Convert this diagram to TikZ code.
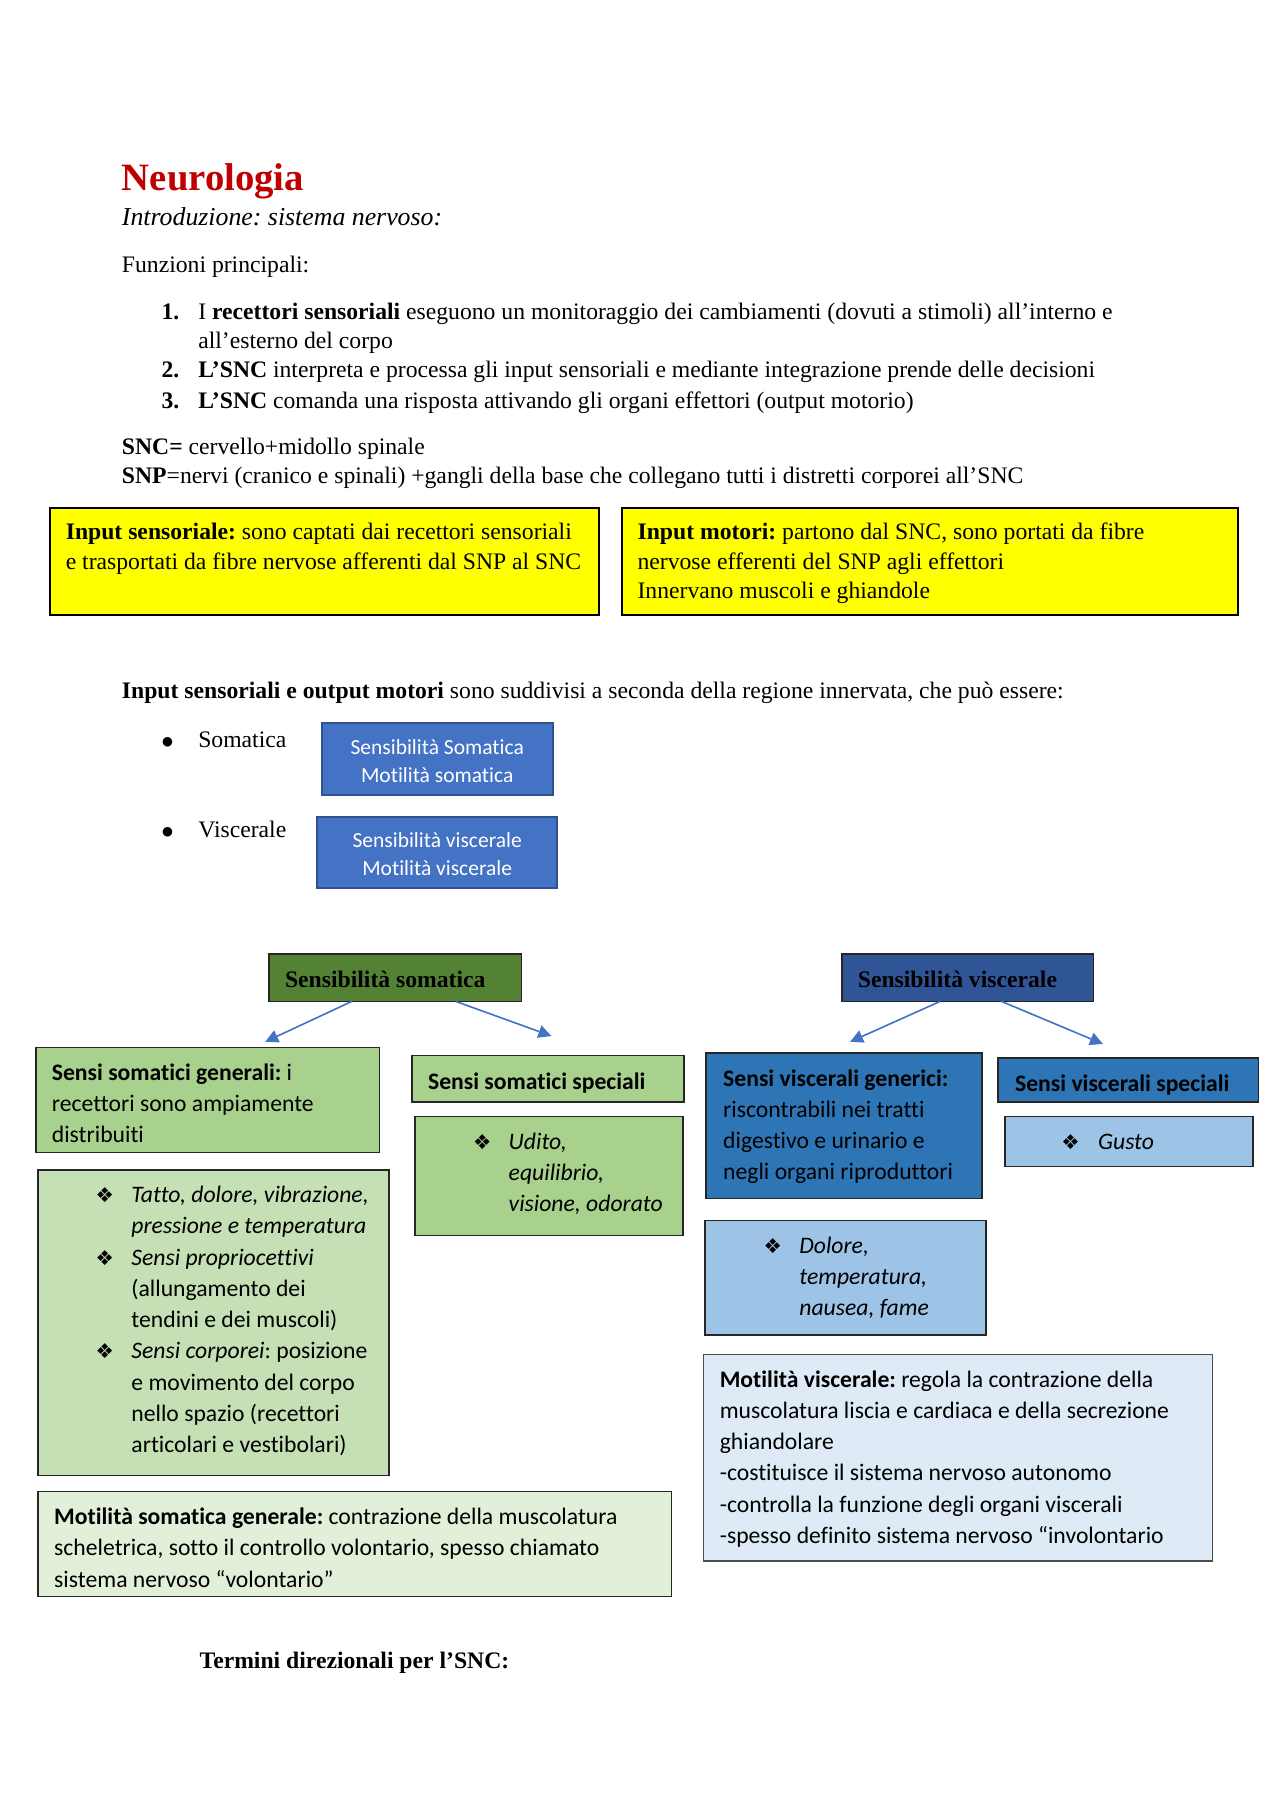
\documentclass[tikz,border=0pt]{standalone}
\usepackage{fontspec}
\setmainfont{Liberation Serif}
\newfontfamily\calfont[Ligatures=NoCommon]{Carlito}
\newfontfamily\symfont{DejaVu Sans}
\usetikzlibrary{arrows.meta,calc}
\definecolor{titlered}{HTML}{C00000}
\definecolor{yel}{HTML}{FFFF00}
\definecolor{bluea}{HTML}{4472C4}
\definecolor{blueaborder}{HTML}{2F528F}
\definecolor{greendark}{HTML}{548235}
\definecolor{bluedark}{HTML}{2F5597}
\definecolor{greenmid}{HTML}{A9D18E}
\definecolor{greenlight}{HTML}{C5E0B4}
\definecolor{greenpale}{HTML}{E2F0D9}
\definecolor{bluemid}{HTML}{2E75B6}
\definecolor{bluelight}{HTML}{9DC3E6}
\definecolor{bluepale}{HTML}{DEEBF7}
\newcommand\dia{{\symfont\fontsize{9.5}{11}\selectfont ❖}}
\newcommand\bul{{\symfont\fontsize{5.8}{7}\selectfont ●}}
\begin{document}
\frenchspacing
\begin{tikzpicture}[x=1pt,y=-1pt,
  txt/.style={anchor=base west, inner sep=0pt, outer sep=0pt, yshift=-0.5pt, font=\fontsize{11}{13}\selectfont},
  ctxt/.style={anchor=base, inner sep=0pt, outer sep=0pt, yshift=-1pt, text=white, font=\calfont\fontsize{10}{12}\selectfont},
  cal/.style={anchor=base west, inner sep=0pt, outer sep=0pt, yshift=-1.3pt, font=\calfont\fontsize{11}{13}\selectfont},
  cali/.style={cal, font=\calfont\itshape\fontsize{11}{13}\selectfont},
  sym/.style={anchor=base west, inner sep=0pt, outer sep=0pt, yshift=-1.3pt},
  bulsty/.style={anchor=base west, inner sep=0pt, outer sep=0pt, yshift=0.6pt},
  panel/.style={draw=black!85, line width=0.75pt, anchor=north west, inner sep=0pt, outer sep=0pt},
  ybox/.style={panel, draw=black, line width=0.8pt, fill=yel},
  bbox/.style={panel, draw=blueaborder, line width=1pt, fill=bluea},
  arr/.style={draw=bluea, line width=0.75pt, -{Triangle[length=6pt,width=6pt]}}
]
\useasboundingbox (0,0) rectangle (595.28,841.89);
\fill[white] (0,0) rectangle (595.28,841.89);

% Header text
\node[txt, font=\bfseries\fontsize{18}{21}\selectfont, text=titlered] (title) at (56.7,88.2) {Neurologia};
\node[txt, font=\itshape\fontsize{12}{14}\selectfont] (intro) at (56.7,104.3) {Introduzione: sistema nervoso:};
\node[txt] (funz) at (56.7,126.3) {Funzioni principali:};
\node[txt, font=\bfseries\fontsize{11}{13}\selectfont] (n1) at (75.1,148.2) {1.};
\node[txt] (l1) at (92.2,148.2) {I \textbf{recettori sensoriali} eseguono un monitoraggio dei cambiamenti (dovuti a stimoli) all’interno e};
\node[txt] (l1b) at (92.2,161.6) {all’esterno del corpo};
\node[txt, font=\bfseries\fontsize{11}{13}\selectfont] (n2) at (75.1,175.2) {2.};
\node[txt] (l2) at (92.2,175.2) {\textbf{L’SNC} interpreta e processa gli input sensoriali e mediante integrazione prende delle decisioni};
\node[txt, font=\bfseries\fontsize{11}{13}\selectfont] (n3) at (75.1,189.3) {3.};
\node[txt] (l3) at (92.2,189.3) {\textbf{L’SNC} comanda una risposta attivando gli organi effettori (output motorio)};
\node[txt] (snc) at (56.7,210.8) {\textbf{SNC=} cervello+midollo spinale};
\node[txt] (snp) at (56.7,224.4) {\textbf{SNP}=nervi (cranico e spinali) +gangli della base che collegano tutti i distretti corporei all’SNC};

% Yellow boxes
\node[ybox, minimum width=255.2pt, minimum height=49.8pt] (y1) at (23.1,236) {};
\node[ybox, minimum width=286.3pt, minimum height=49.8pt] (y2) at (289.1,236) {};
\node[txt] (y1a) at (30.6,250.3) {\textbf{Input sensoriale:} sono captati dai recettori sensoriali};
\node[txt] (y1b) at (30.6,264.2) {e trasportati da fibre nervose afferenti dal SNP al SNC};
\node[txt] (y2a) at (296.4,250.3) {\textbf{Input motori:} partono dal SNC, sono portati da fibre};
\node[txt] (y2b) at (296.4,264.2) {nervose efferenti del SNP agli effettori};
\node[txt] (y2c) at (296.4,277.8) {Innervano muscoli e ghiandole};

% Subdivision
\node[txt] (subd) at (56.7,324.3) {\textbf{Input sensoriali e output motori} sono suddivisi a seconda della regione innervata, che può essere:};
\node[bulsty] (bul1) at (75.4,347.2) {\bul};
\node[txt] (som) at (92.2,346.8) {Somatica};
\node[bulsty] (bul2) at (75.4,389) {\bul};
\node[txt] (vis) at (92.2,388.6) {Viscerale};
\node[bbox, minimum width=107.3pt, minimum height=33.2pt] (bx1) at (149.6,336.3) {};
\node[ctxt] (bx1a) at (203.25,349.9) {Sensibilità Somatica};
\node[ctxt] (bx1b) at (203.25,362.7) {Motilità somatica};
\node[bbox, minimum width=111.5pt, minimum height=33.3pt] (bx2) at (147.5,379.7) {};
\node[ctxt] (bx2a) at (203.25,393.2) {Sensibilità viscerale};
\node[ctxt] (bx2b) at (203.25,406.1) {Motilità viscerale};

% Headers of the two trees
\node[panel, fill=greendark, minimum width=117.4pt, minimum height=22pt] (ss) at (125,443.5) {};
\node[txt, font=\bfseries\fontsize{11}{13}\selectfont] (sst) at (132.5,458.4) {Sensibilità somatica};
\node[panel, fill=bluedark, minimum width=116.9pt, minimum height=22pt] (sv) at (391.5,443.5) {};
\node[txt, font=\bfseries\fontsize{11}{13}\selectfont] (svt) at (398.8,458.4) {Sensibilità viscerale};

% Arrows
\coordinate (a1) at (123.3,484.3);
\coordinate (a2) at (256.3,481.6);
\coordinate (a3) at (395.2,484.3);
\coordinate (a4) at (512.7,485.3);
\draw[arr] ($(ss.south west)+(38.6,0)$) -- (a1);
\draw[arr] ($(ss.south west)+(86.8,0)$) -- (a2);
\draw[arr] ($(sv.south west)+(45.6,0)$) -- (a3);
\draw[arr] ($(sv.south west)+(74,0)$) -- (a4);

% Somatic side
\node[panel, fill=greenmid, minimum width=159.8pt, minimum height=48.7pt] (g1) at (16.6,487) {};
\node[cal] (g1a) at (24.1,500.9) {\textbf{Sensi somatici generali:} i};
\node[cal] (g1b) at (24.1,515.4) {recettori sono ampiamente};
\node[cal] (g1c) at (24.1,529.8) {distribuiti};

\node[panel, fill=greenmid, minimum width=126.5pt, minimum height=21.5pt] (g2) at (191.5,490.7) {};
\node[cal, font=\calfont\bfseries\fontsize{11}{13}\selectfont] (g2a) at (199,505.2) {Sensi somatici speciali};

\node[panel, fill=greenmid, minimum width=124.5pt, minimum height=55.4pt] (g3) at (193,519) {};
\node[sym] (g3s) at (219.9,533.1) {\dia};
\node[cali] (g3a) at (236.5,533.1) {Udito,};
\node[cali] (g3b) at (236.5,547.6) {equilibrio,};
\node[cali] (g3c) at (236.5,562.1) {visione, odorato};

\node[panel, fill=greenlight, minimum width=163pt, minimum height=142.2pt] (g4) at (17.7,543.8) {};
\node[sym] (g4s1) at (44.5,557.7) {\dia};
\node[cali] (g4a) at (61.1,557.7) {Tatto, dolore, vibrazione,};
\node[cali] (g4b) at (61.1,572.25) {pressione e temperatura};
\node[sym] (g4s2) at (44.5,586.8) {\dia};
\node[cali] (g4c) at (61.1,586.8) {Sensi propriocettivi};
\node[cal] (g4d) at (61.1,601.35) {(allungamento dei};
\node[cal] (g4e) at (61.1,615.9) {tendini e dei muscoli)};
\node[sym] (g4s3) at (44.5,630.45) {\dia};
\node[cal] (g4f) at (61.1,630.45) {\textit{Sensi corporei}: posizione};
\node[cal] (g4g) at (61.1,645) {e movimento del corpo};
\node[cal] (g4h) at (61.1,659.55) {nello spazio (recettori};
\node[cal] (g4i) at (61.1,674.1) {articolari e vestibolari)};

\node[panel, fill=greenpale, minimum width=294.4pt, minimum height=48.8pt] (g5) at (17.7,693.4) {};
\node[cal] (g5a) at (25.2,707.4) {\textbf{Motilità somatica generale:} contrazione della muscolatura};
\node[cal] (g5b) at (25.2,721.95) {scheletrica, sotto il controllo volontario, spesso chiamato};
\node[cal] (g5c) at (25.2,736.5) {sistema nervoso “volontario”};

% Visceral side
\node[panel, fill=bluemid, minimum width=128.2pt, minimum height=67.6pt] (b1) at (328.2,489.6) {};
\node[cal] (b1a) at (336.2,503.6) {\textbf{Sensi viscerali generici:}};
\node[cal] (b1b) at (336.2,518.1) {riscontrabili nei tratti};
\node[cal] (b1c) at (336.2,532.6) {digestivo e urinario e};
\node[cal] (b1d) at (336.2,547.1) {negli organi riproduttori};

\node[panel, fill=bluemid, minimum width=121.2pt, minimum height=20.4pt] (b2) at (463.9,491.8) {};
\node[cal, font=\calfont\bfseries\fontsize{11}{13}\selectfont] (b2a) at (471.9,506.3) {Sensi viscerali speciali};

\node[panel, fill=bluelight, minimum width=115.3pt, minimum height=23.2pt] (b3) at (467.1,519) {};
\node[sym] (b3s) at (493.4,533.1) {\dia};
\node[cali] (b3a) at (510.5,533.1) {Gusto};

\node[panel, fill=bluelight, minimum width=130.8pt, minimum height=53.1pt] (b4) at (327.7,567.4) {};
\node[sym] (b4s) at (355,581.3) {\dia};
\node[cali] (b4a) at (371.6,581.3) {Dolore,};
\node[cali] (b4b) at (371.6,595.85) {temperatura,};
\node[cali] (b4c) at (371.6,610.4) {nausea, fame};

\node[panel, fill=bluepale, draw=black!70, minimum width=236.5pt, minimum height=96pt] (b5) at (327.1,629.6) {};
\node[cal] (b5a) at (334.6,643.5) {\textbf{Motilità viscerale:} regola la contrazione della};
\node[cal] (b5b) at (334.6,658.05) {muscolatura liscia e cardiaca e della secrezione};
\node[cal] (b5c) at (334.6,672.6) {ghiandolare};
\node[cal] (b5d) at (334.6,687.15) {-costituisce il sistema nervoso autonomo};
\node[cal] (b5e) at (334.6,701.7) {-controlla la funzione degli organi viscerali};
\node[cal] (b5f) at (334.6,716.25) {-spesso definito sistema nervoso “involontario};

% Footer
\node[txt, font=\bfseries\fontsize{11}{13}\selectfont] (term) at (92.8,775) {Termini direzionali per l’SNC:};
\end{tikzpicture}
\end{document}
